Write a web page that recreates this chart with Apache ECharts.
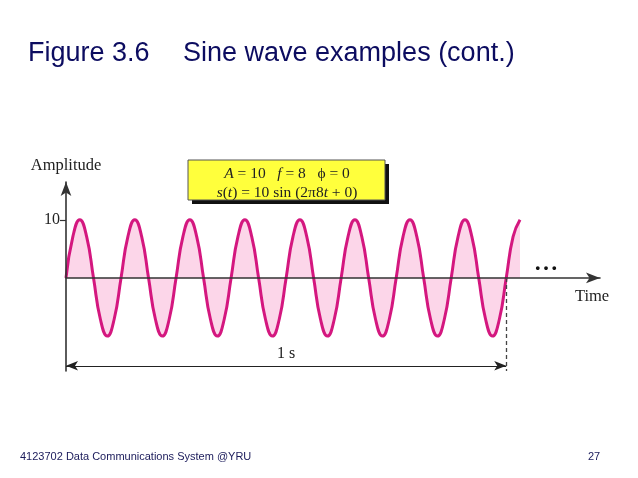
<!DOCTYPE html>
<html>
<head>
<meta charset="utf-8">
<script src="https://cdn.jsdelivr.net/npm/echarts@6/dist/echarts.min.js"></script>
<style>html,body{margin:0;padding:0;background:#fff;}#c{width:638px;height:478px;}</style>
</head>
<body>
<div id="c"></div>
<script>
// Sample times (ms) read along the wave: every 1/8 of a cycle (period 125 ms)
const times = [
  0, 15.6, 31.3, 46.9, 62.5, 78.1, 93.8, 109.4,
  125, 140.6, 156.3, 171.9, 187.5, 203.1, 218.8, 234.4,
  250, 265.6, 281.3, 296.9, 312.5, 328.1, 343.8, 359.4,
  375, 390.6, 406.3, 421.9, 437.5, 453.1, 468.8, 484.4,
  500, 515.6, 531.3, 546.9, 562.5, 578.1, 593.8, 609.4,
  625, 640.6, 656.3, 671.9, 687.5, 703.1, 718.8, 734.4,
  750, 765.6, 781.3, 796.9, 812.5, 828.1, 843.8, 859.4,
  875, 890.6, 906.3, 921.9, 937.5, 953.1, 968.8, 984.4,
  1000, 1015.6, 1031.3
];
// Amplitude read at those times
const amplitudes = [
  0, 7.1, 10, 7.1, 0, -7.1, -10, -7.1,
  0, 7.1, 10, 7.1, 0, -7.1, -10, -7.1,
  0, 7.1, 10, 7.1, 0, -7.1, -10, -7.1,
  0, 7.1, 10, 7.1, 0, -7.1, -10, -7.1,
  0, 7.1, 10, 7.1, 0, -7.1, -10, -7.1,
  0, 7.1, 10, 7.1, 0, -7.1, -10, -7.1,
  0, 7.1, 10, 7.1, 0, -7.1, -10, -7.1,
  0, 7.1, 10, 7.1, 0, -7.1, -10, -7.1,
  0, 7.1, 10
];
const yTickValues = [10];
const durationEnd = 1000;      // 1 s
const durationLabel = '1 s';
const dimensionLevel = -15.1;
const xName = 'Time';
const yName = 'Amplitude';
const titleLeft = 'Figure 3.6';
const titleRight = 'Sine wave examples (cont.)';
const footerLeft = '4123702 Data Communications System @YRU';
const footerRight = '27';

const serif = '"Liberation Serif", "DejaVu Serif", serif';
const sans = '"Liberation Sans", Arial, sans-serif';

const chart = echarts.init(document.getElementById('c'), null, {renderer: 'canvas'});
chart.setOption({
  animation: false,
  backgroundColor: '#ffffff',
  title: [
    {text: titleLeft, left: 28, top: 40, padding: 0, textStyle: {fontFamily: sans, fontSize: 27, fontWeight: 'normal', color: '#0c0c60'}},
    {text: titleRight, left: 183, top: 40, padding: 0, textStyle: {fontFamily: sans, fontSize: 27, fontWeight: 'normal', color: '#0c0c60'}},
    {text: footerLeft, left: 20, top: 451, padding: 0, textStyle: {fontFamily: sans, fontSize: 11, fontWeight: 'normal', color: '#1a1a5a'}},
    {text: footerRight, left: 588, top: 451, padding: 0, textStyle: {fontFamily: sans, fontSize: 11, fontWeight: 'normal', color: '#1a1a5a'}}
  ],
  grid: {left: 66, right: 38, top: 182, bottom: 107},
  xAxis: {
    type: 'value', min: 0, max: 1213, z: 3,
    name: xName, nameLocation: 'end', nameGap: -8,
    nameTextStyle: {fontFamily: serif, fontSize: 16.5, color: '#222', align: 'center', verticalAlign: 'top', padding: [10, 0, 0, 0]},
    axisLine: {show: true, onZero: true, symbol: ['none', 'arrow'], symbolSize: [8, 14], lineStyle: {color: '#333', width: 1.6}},
    axisTick: {show: false}, axisLabel: {show: false}, splitLine: {show: false}
  },
  yAxis: {
    type: 'value', min: -16, max: 16.5, z: 3,
    name: yName, nameLocation: 'end', nameGap: 8,
    nameTextStyle: {fontFamily: serif, fontSize: 16.5, color: '#222'},
    axisLine: {show: true, symbol: ['none', 'arrow'], symbolSize: [8, 14], lineStyle: {color: '#333', width: 1.6}},
    axisTick: {show: true, customValues: yTickValues, length: 6, lineStyle: {color: '#333', width: 1.2}},
    axisLabel: {show: true, customValues: yTickValues, margin: 6, fontFamily: serif, fontSize: 16, color: '#222'},
    splitLine: {show: false}
  },
  series: [{
    type: 'line',
    data: times.map((t, i) => [t, amplitudes[i]]),
    smooth: 0.5,
    showSymbol: false,
    lineStyle: {color: '#d4177f', width: 3},
    areaStyle: {color: '#fcd6e9', opacity: 1, origin: 0},
    z: 2,
    markLine: {
      silent: true, animation: false,
      symbol: ['none', 'none'],
      label: {show: false},
      data: [
        [
          {coord: [durationEnd, 0], lineStyle: {type: [4, 3], color: '#444', width: 1.3}},
          {coord: [durationEnd, -16]}
        ],
        [
          {coord: [0, dimensionLevel], symbol: 'arrow', symbolSize: [7, 12],
           lineStyle: {type: 'solid', color: '#222', width: 1.1},
           label: {show: true, formatter: durationLabel, position: 'insideMiddleTop', distance: 4, fontFamily: serif, fontSize: 16, color: '#222'}},
          {coord: [durationEnd, dimensionLevel], symbol: 'arrow', symbolSize: [7, 12]}
        ]
      ]
    }
  }],
  graphic: [
    {type: 'rect', shape: {x: 192, y: 164, width: 197, height: 40}, style: {fill: '#111'}, z: 10},
    {type: 'rect', shape: {x: 188, y: 160, width: 197, height: 40}, style: {fill: '#ffff3c', stroke: '#555', lineWidth: 1}, z: 11},
    {type: 'text', x: 287, y: 183, z: 12, style: {
      text: '{i|A}{r| = 10   }{i|f}{r| = 8   ϕ = 0}\n{i|s}{r|(}{i|t}{r|) = 10 sin (2π8}{i|t}{r| + 0)}',
      align: 'center', verticalAlign: 'middle', fill: '#222',
      font: '15px ' + serif,
      rich: {
        r: {fontFamily: serif, fontSize: 15.5, lineHeight: 19, fill: '#222'},
        i: {fontFamily: serif, fontSize: 15.5, lineHeight: 19, fontStyle: 'italic', fill: '#222'}
      }
    }},
    {type: 'text', x: 546, y: 268, z: 12, style: {text: '• • •', align: 'center', verticalAlign: 'middle', font: 'bold 13px ' + sans, fill: '#111'}}
  ]
});
</script>
</body>
</html>
